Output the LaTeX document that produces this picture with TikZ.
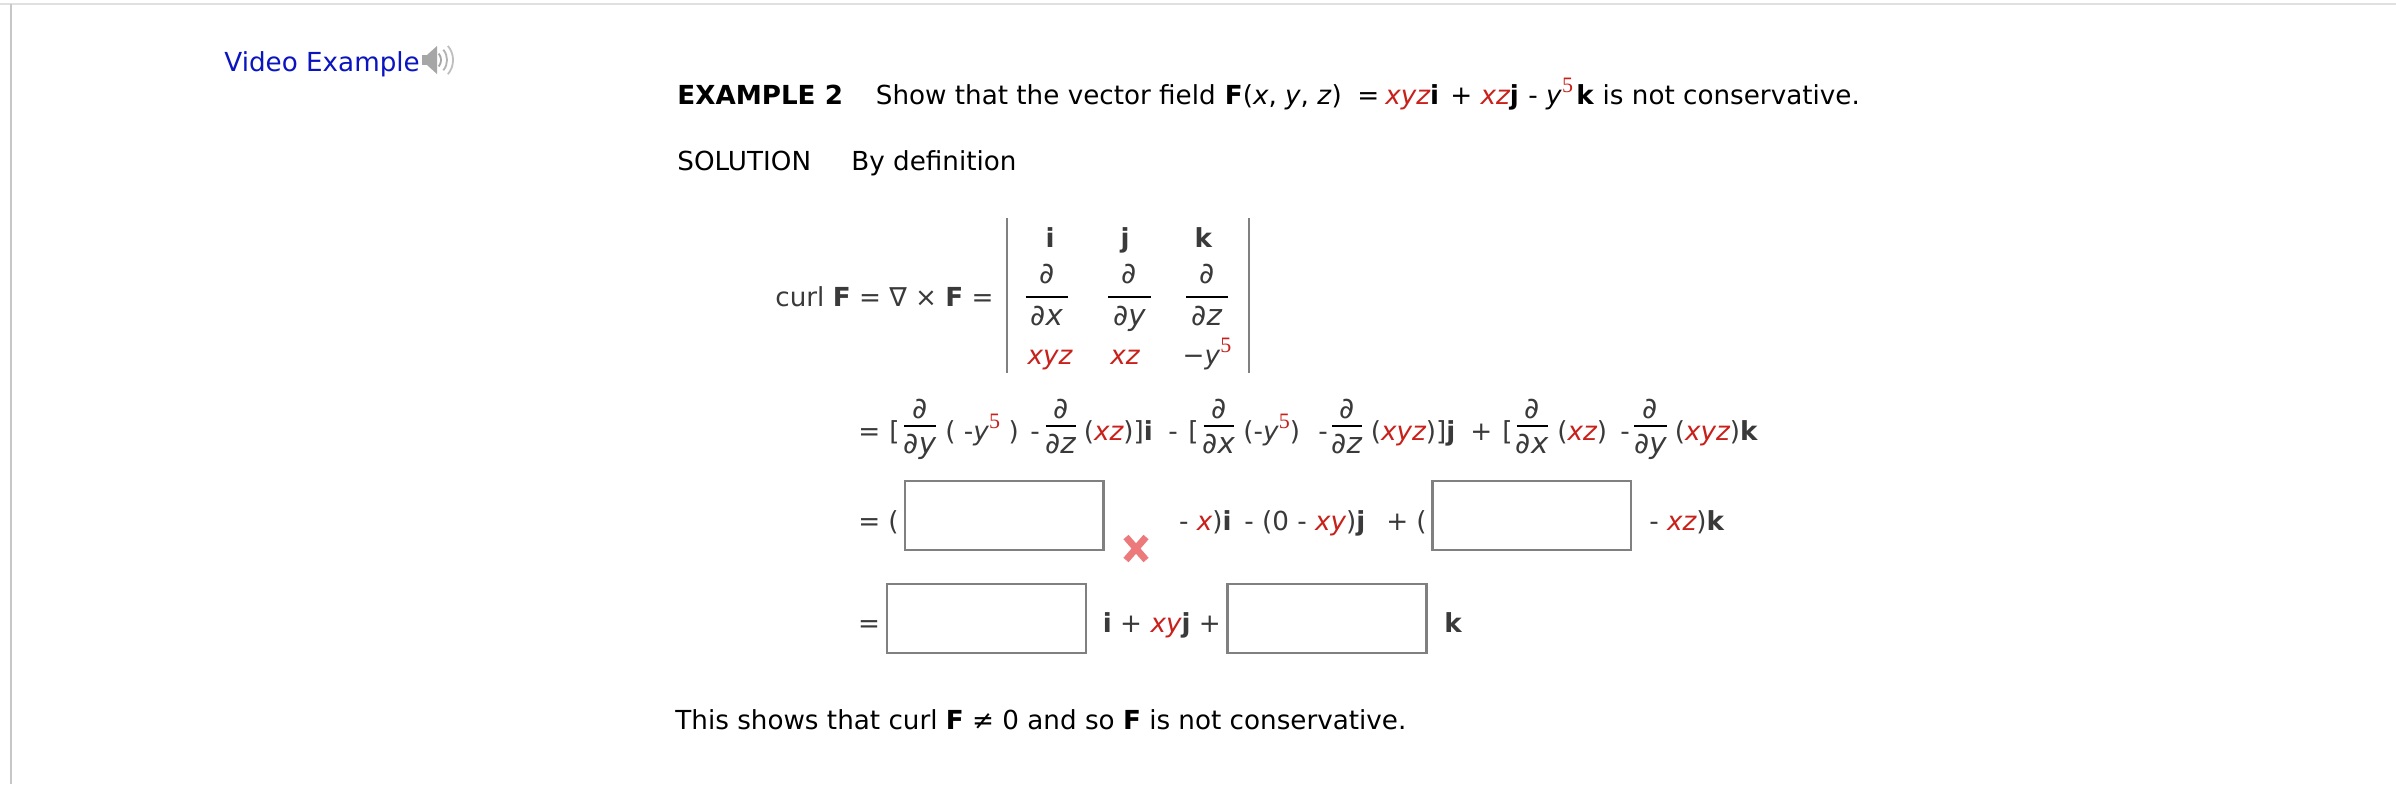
\documentclass[tikz,border=0pt]{standalone}
\usepackage{fontspec}
\setmainfont{DejaVu Sans}
\newfontfamily\serfive{Liberation Serif}
\definecolor{ink}{HTML}{3A3A3A}
\definecolor{mathred}{HTML}{C8201A}
\definecolor{linkblue}{HTML}{0A14C0}
\definecolor{boxgray}{HTML}{808080}
\definecolor{xred}{HTML}{EC7A7C}
\newcommand{\rd}[1]{\textcolor{mathred}{\itshape #1}}
\newcommand{\fiv}{\raisebox{6pt}{\textcolor{mathred}{\fontsize{11pt}{11pt}\selectfont\serfive\upshape 5}}}
\tikzset{
  body/.style={inner sep=0pt,anchor=base west,font=\fontsize{13.1pt}{15pt}\selectfont,text=black},
  mth/.style={body,text=ink},
  ctr/.style={mth,anchor=base},
  big/.style={ctr,font=\fontsize{14.6pt}{16pt}\selectfont},
  ansbox/.style={draw=boxgray,line width=1.2pt,fill=white},
  fracrule/.style={draw=black,line width=1pt},
  detbar/.style={draw=gray,line width=1.2pt},
}
% \pfrac{name}{x1}{x2}{rule y}{num offset}{denominator letter}{den offset}
\newcommand{\pfrac}[7]{%
  \draw[fracrule] (#2,#4) -- (#3,#4);
  \node[big] (#1n) at ({(#2+#3)/2},{#4-#5}) {∂};
  \node[big] (#1d) at ({(#2+#3)/2},{#4+#7}) {∂\textit{#6}};
}
\begin{document}
\begin{tikzpicture}[x=0.5pt,y=-0.5pt]
\useasboundingbox (0,0) rectangle (2396,784);
\fill[white] (0,0) rectangle (2396,784);
\draw[draw=black!12,line width=1pt] (0,4) -- (2396,4);
\draw[draw=black!22,line width=1pt] (11,4) -- (11,784);

% header
\node[body,text=linkblue] (video) at (224,71) {Video Example};
\fill[gray!70] (422,55) rectangle (428,65);
\fill[gray!70] (427,55) -- (437,46) -- (437,74) -- (427,65) -- cycle;
\draw[gray!70,line width=0.9pt] (438.7,53.6) arc (-40:40:10);
\draw[gray!60,line width=0.9pt] (443.3,49.7) arc (-40:40:16);
\draw[gray!50,line width=0.9pt] (447.9,45.9) arc (-40:40:22);
\node[body] (ex) at (677,104) {\textbf{EXAMPLE 2}};
\node[body] (show) at (875.5,104) {Show that the vector field};
\node[body] (fxyz) at (1224.5,104) {\textbf{F}(\textit{x}, \textit{y}, \textit{z})};
\node[body] (feq) at (1357,104) {=};
\node[body] (fi) at (1385,104) {\rd{xyz}\textbf{i}};
\node[body] (fj) at (1450,104) {+ \rd{xz}\textbf{j}};
\node[body] (fy) at (1528,104) {- \textit{y}\fiv};
\node[body] (fk) at (1576,104) {\textbf{k} is not conservative.};
\node[body] (sol) at (677,170) {SOLUTION};
\node[body] (def) at (851,170) {By definition};

% determinant
\node[mth] (curl) at (775,306) {curl \textbf{F} = ∇ × \textbf{F} =};
\draw[detbar] (1007,218) -- (1007,373);
\draw[detbar] (1249,218) -- (1249,373);
\node[ctr] (ei) at (1050,247) {\textbf{i}};
\node[ctr] (ej) at (1125,247) {\textbf{j}};
\node[ctr] (ek) at (1203.5,247) {\textbf{k}};
\pfrac{a}{1025.5}{1068}{297}{14}{x}{28}
\pfrac{b}{1108}{1151}{297}{14}{y}{28}
\pfrac{c}{1186}{1228}{297}{14}{z}{28}
\node[ctr] (m1) at (1050,364) {\rd{xyz}};
\node[ctr] (m2) at (1125,364) {\rd{xz}};
\node[ctr] (m3) at (1207,364) {−\textit{y}\fiv};

% expanded line
\node[mth] (eq2) at (858,440) {=};
\node[mth] (br2) at (889,440) {[};
\pfrac{p}{904}{936}{426}{8}{y}{27}
\node[mth] (t1) at (945,440) {( -\textit{y}\fiv~)};
\node[mth] (t2) at (1030,440) {-};
\pfrac{q}{1045.5}{1076}{426}{8}{z}{27}
\node[mth] (t3) at (1083.5,440) {(\rd{xz})]\textbf{i}};
\node[mth] (t4) at (1168,440) {-};
\node[mth] (t4b) at (1188,440) {[};
\pfrac{r}{1203.5}{1234}{426}{8}{x}{27}
\node[mth] (t5) at (1243,440) {(-\textit{y}\fiv)};
\node[mth] (t6) at (1318,440) {-};
\pfrac{s}{1332}{1362}{426}{8}{z}{27}
\node[mth] (t7) at (1370.5,440) {(\rd{xyz})]\textbf{j}};
\node[mth] (t8) at (1470,440) {+};
\node[mth] (t8b) at (1502,440) {[};
\pfrac{u}{1516.5}{1548}{426}{8}{x}{27}
\node[mth] (t9) at (1557,440) {(\rd{xz})};
\node[mth] (t10) at (1620,440) {-};
\pfrac{v}{1634}{1667}{426}{8}{y}{27}
\node[mth] (t11) at (1674.5,440) {(\rd{xyz})\textbf{k}};

% third line
\node[mth] (eq3) at (858,530) {=};
\node[mth] (op3) at (888,530) {(};
\draw[ansbox] (905,481) rectangle (1103.5,550);
\node[mth] (l3a) at (1178.6,530) {- \rd{x})\textbf{i}};
\node[mth] (l3c) at (1244,530) {- (0 - \rd{xy})\textbf{j}};
\node[mth] (l3d) at (1386,530) {+};
\node[mth] (l3e) at (1416,530) {(};
\draw[ansbox] (1432.6,481) rectangle (1631,550);
\node[mth] (l3b) at (1649,530) {- \rd{xz})\textbf{k}};
\draw[xred,line width=3.4pt] (1126,537) -- (1146,560);
\draw[xred,line width=3.4pt] (1146,537) -- (1126,560);

% fourth line
\node[mth] (eq4) at (857.6,632) {=};
\draw[ansbox] (887,584) rectangle (1086,653);
\node[mth] (l4a) at (1102.5,632) {\textbf{i} + \rd{xy}\textbf{j} +};
\draw[ansbox] (1227.5,584) rectangle (1426.5,653);
\node[mth] (l4b) at (1444,632) {\textbf{k}};

\node[body] (end) at (675,729) {This shows that curl \textbf{F} ≠ 0 and so \textbf{F} is not conservative.};
\end{tikzpicture}
\end{document}
